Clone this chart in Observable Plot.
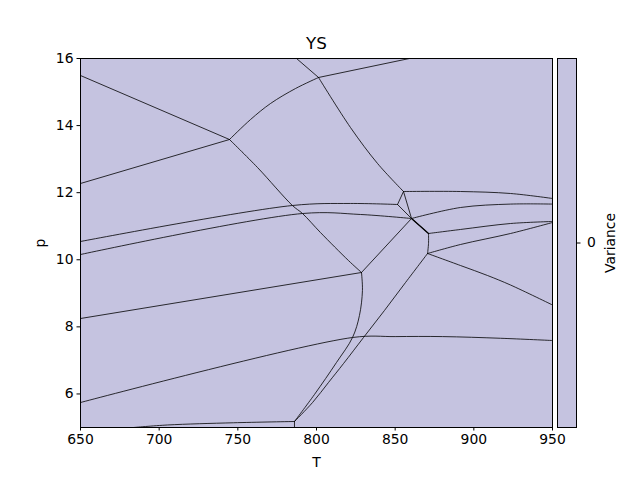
<!DOCTYPE html>
<html><head><meta charset="utf-8">
<script src="https://cdn.jsdelivr.net/npm/d3@7"></script>
<script src="https://cdn.jsdelivr.net/npm/@observablehq/plot@0.6"></script>
<style>
body{margin:0;background:#fff;}
#wrap{position:relative;width:640px;height:480px;font-family:"DejaVu Sans";}
#wrap svg{position:absolute;top:0;}
</style>
</head><body><div id="wrap"></div>
<script>
const title = "YS";
const xTicks = [650, 700, 750, 800, 850, 900, 950];
const yTicks = [6, 8, 10, 12, 14, 16];
const cbarTicks = [0];
const fillColor = "#c5c3e0";

// phase boundary lines as [T, p]
const lineA = [[650,15.493],[744.7,13.585]];
const lineB = [[650,12.274],[744.7,13.585]];
const lineC = [[744.7,13.585],[758.1,14.182],[770.8,14.659],[786.7,15.106],[801.3,15.434]];
const lineD = [[787.3,16],[801.3,15.434]];
const lineE = [[801.3,15.434],[859.1,16]];
const lineF = [[801.3,15.434],[821.6,13.943],[838.8,12.870],[855.3,12.035]];
const lineG = [[744.7,13.585],[762.5,12.751],[784.7,11.618],[791.1,11.379],[802.5,10.813],[820.3,9.978],[828.6,9.621]];
const lineH = [[650,10.545],[784.7,11.618],[821.6,11.678],[851.5,11.648]];
const lineI = [[650,10.157],[791.1,11.379],[828.0,11.350],[860.4,11.230]];
const lineP1R = [[855.3,12.035],[891.5,12.035],[923.3,11.976],[950,11.827]];
const lineP1P2 = [[855.3,12.035],[851.5,11.648]];
const lineP1P3 = [[855.3,12.035],[860.4,11.230]];
const lineP2P3 = [[851.5,11.648],[860.4,11.230]];
const lineP3R = [[860.4,11.230],[891.5,11.558],[923.3,11.66],[950,11.66]];
const lineP3P4 = [[860.4,11.230],[871.2,10.783]];
const lineP4R = [[871.2,10.783],[891.5,10.903],[923.3,11.081],[950,11.141]];
const lineP4P5 = [[871.2,10.783],[871.2,10.485],[870.6,10.187]];
const lineP5UR = [[870.6,10.187],[891.5,10.455],[923.3,10.783],[950,11.111]];
const lineP5DR = [[870.6,10.187],[891.5,9.829],[908.7,9.531],[923.3,9.248],[950,8.652]];
const lineP5DL = [[870.6,10.187],[856.6,9.323],[843.2,8.488],[829.9,7.683],[817.2,6.908],[807.6,6.341],[797.5,5.745],[786.0,5.179]];
const lineP6C = [[828.6,9.621],[829.2,9.085],[827.3,8.339],[822.9,7.683],[812.7,6.938],[798.7,5.984],[786.0,5.179]];
const lineP6L = [[650,8.249],[828.6,9.621]];
const lineP6P3 = [[828.6,9.621],[860.4,11.230]];
const line77 = [[650,5.745],[822.9,7.683],[850,7.71],[880,7.71],[917.0,7.66],[950,7.593]];
const lineBottom = [[683.7,5.0],[705.3,5.075],[747.2,5.141],[786.0,5.179]];
const lineVert = [[786.0,5.179],[786.0,5.0]];

const lines = {lineA, lineB, lineC, lineD, lineE, lineF, lineG, lineH, lineI, lineP1R, lineP1P2, lineP1P3,
  lineP2P3, lineP3R, lineP3P4, lineP4R, lineP4P5, lineP5UR, lineP5DR, lineP5DL, lineP6C, lineP6L, lineP6P3,
  line77, lineBottom, lineVert};
const table = Object.entries(lines).flatMap(([id, pts]) => pts.map(([T, p]) => ({id, T, p})));
const thick = lineP3P4.map(([T, p]) => ({T, p}));

const main = Plot.plot({
  width: 640, height: 480,
  marginLeft: 80, marginRight: 88, marginTop: 58, marginBottom: 53,
  style: {fontFamily: "DejaVu Sans", fontSize: "13.9px", background: "transparent", color: "black"},
  x: {domain: [650, 950], ticks: xTicks, label: "T", labelAnchor: "center", labelOffset: 39, labelArrow: "none", tickSize: 3.5, tickPadding: 3.5},
  y: {domain: [5, 16], ticks: yTicks, label: "p", labelAnchor: "center", labelOffset: 45, labelArrow: "none", tickSize: 3.5, tickPadding: 3.5},
  marks: [
    Plot.frame({fill: fillColor}),
    Plot.line(table, {x: "T", y: "p", z: "id", stroke: "black", strokeWidth: 0.8, curve: "catmull-rom"}),
    Plot.line(thick, {x: "T", y: "p", stroke: "black", strokeWidth: 1.3}),
    Plot.frame({stroke: "black", strokeWidth: 1}),
    Plot.text([title], {frameAnchor: "top", dy: -21, fontSize: 16.7})
  ]
});

const cbar = Plot.plot({
  width: 83, height: 480,
  marginLeft: 0, marginRight: 64, marginTop: 58, marginBottom: 53,
  style: {fontFamily: "DejaVu Sans", fontSize: "13.9px", background: "transparent", color: "black"},
  x: {axis: null, domain: [0, 1]},
  y: {domain: [-0.5, 0.5], ticks: cbarTicks, tickFormat: d3.format("d"), axis: "right", label: "Variance", labelAnchor: "center", labelOffset: 38, labelArrow: "none", tickSize: 3.5, tickPadding: 7},
  marks: [Plot.frame({fill: fillColor, stroke: "black", strokeWidth: 1})]
});

const wrap = document.getElementById("wrap");
main.style.left = "0px";
cbar.style.left = "557px";
wrap.appendChild(main);
wrap.appendChild(cbar);
</script>
</body></html>
